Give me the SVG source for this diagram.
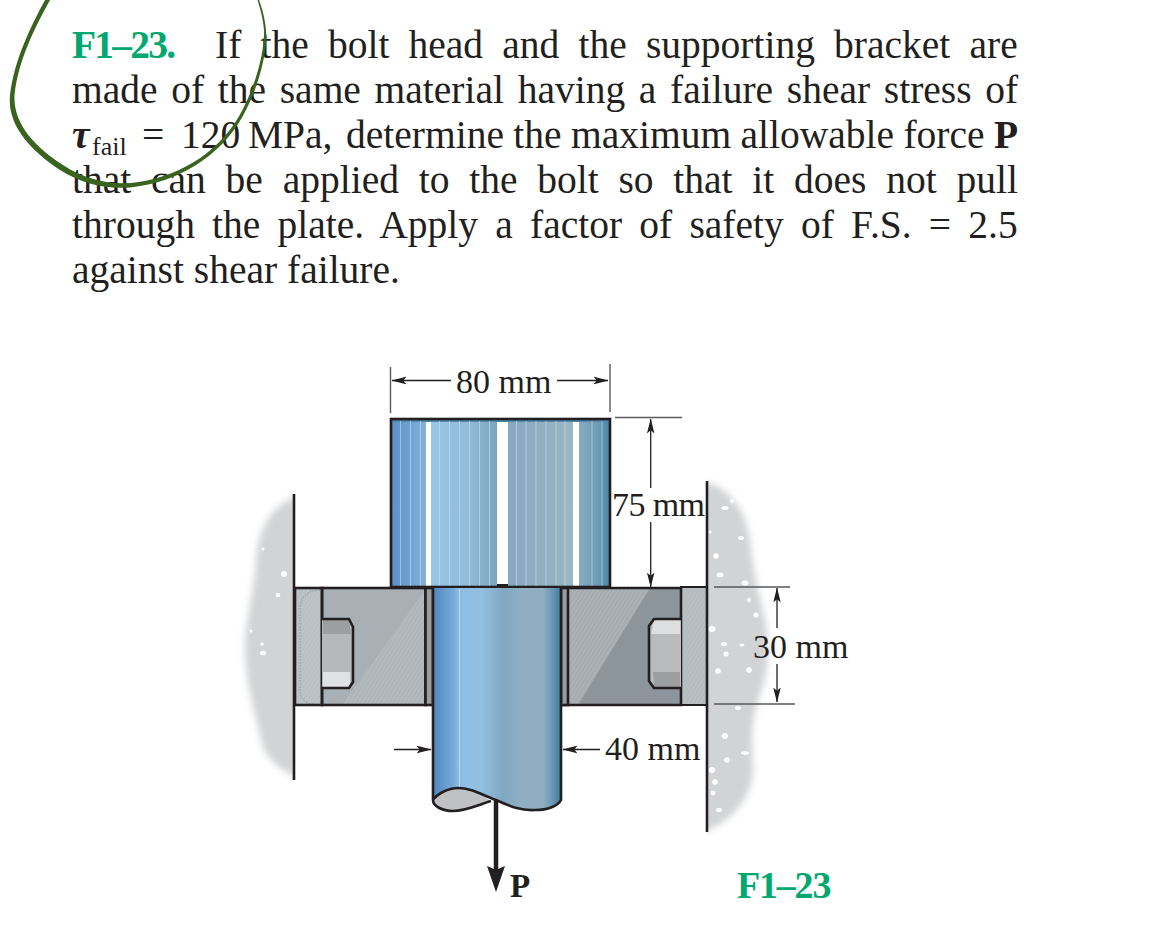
<svg xmlns="http://www.w3.org/2000/svg" width="1156" height="948" viewBox="0 0 1156 948">
<style>
text{font-family:"Liberation Serif","Times New Roman",serif;fill:#231f20}
.body{font-size:39.5px}
.dim{font-size:34px}
.green{fill:#00a870;font-weight:bold}
.ink{stroke:#231f20;stroke-width:2.6;fill:none}
.dl{stroke:#231f20;stroke-width:1.3;fill:none}
.ext{stroke:#5a5a5c;stroke-width:1.4;fill:none}
.sp{fill:#fff}
.hl{stroke:#c9dff0;stroke-width:1;opacity:.6}
</style>
<defs>
<marker id="ah" viewBox="0 0 14 8" refX="13.5" refY="4" markerWidth="15" markerHeight="9" markerUnits="userSpaceOnUse" orient="auto-start-reverse"><path d="M0 0.5L14 4L0 7.5L3 4Z" fill="#231f20"/></marker>
<linearGradient id="h1"><stop offset="0" stop-color="#5a8fc6"/><stop offset="1" stop-color="#84b2dc"/></linearGradient>
<linearGradient id="h2"><stop offset="0" stop-color="#98c7ea"/><stop offset=".55" stop-color="#92bcd9"/><stop offset="1" stop-color="#7ca5bf"/></linearGradient>
<linearGradient id="h3"><stop offset="0" stop-color="#86a8c0"/><stop offset="1" stop-color="#9cb7c4"/></linearGradient>
<linearGradient id="h4"><stop offset="0" stop-color="#8aabbf"/><stop offset=".6" stop-color="#6f9cb6"/><stop offset="1" stop-color="#4a83a5"/></linearGradient>
<linearGradient id="sh"><stop offset="0" stop-color="#4f86c1"/><stop offset=".16" stop-color="#79abd8"/><stop offset=".2" stop-color="#8dbde3"/><stop offset=".38" stop-color="#93bfe0"/><stop offset=".55" stop-color="#7fa8c4"/><stop offset=".68" stop-color="#90afc4"/><stop offset=".86" stop-color="#8fadc0"/><stop offset=".93" stop-color="#6b99b4"/><stop offset="1" stop-color="#3d7a9c"/></linearGradient>
<pattern id="hatch" width="3.500" height="3.500" patternUnits="userSpaceOnUse" patternTransform="rotate(32)"><line x1="0" y1="0" x2="0" y2="3.500" stroke="#dfe3e5" stroke-width=".6" opacity=".45"/></pattern>
<filter id="soft" x="-20%" y="-10%" width="140%" height="120%"><feGaussianBlur stdDeviation="3.500"/></filter>
<clipPath id="cL"><rect x="200" y="480" width="94" height="310"/></clipPath>
<clipPath id="cR"><rect x="707" y="470" width="90" height="370"/></clipPath>
</defs>
<rect width="1156" height="948" fill="#fff"/>

<g id="problem-text">
<text class="body green" x="72" y="58" letter-spacing="-1.800">F1–23.</text>
<text class="body" x="215" y="58" word-spacing="9.300">If the bolt head and the supporting bracket are</text>
<text class="body" x="72" y="103" word-spacing="3.800">made of the same material having a failure shear stress of</text>
<text class="body" x="72" y="148" font-style="italic" font-weight="bold">τ</text>
<text x="92" y="154.500" font-size="26">fail</text>
<text class="body" x="142" y="148">=</text>
<text class="body" x="181" y="148">120</text>
<text class="body" x="248" y="148">MPa,</text>
<text class="body" x="346" y="148" word-spacing="-0.500">determine the maximum allowable force</text>
<text class="body" x="994" y="148" font-weight="bold">P</text>
<text class="body" x="72" y="193" word-spacing="9.900">that can be applied to the bolt so that it does not pull</text>
<text class="body" x="72" y="238" word-spacing="7.350">through the plate. Apply a factor of safety of F.S. = 2.5</text>
<text class="body" x="72" y="283">against shear failure.</text>
</g>

<g id="hand-circle">
<path fill="#38641f" d="M45 0C31 26 14 60 10 95C7 125 30 150 60 170C85 186 115 191 140 186C185 179 226 151 246 110C259 85 268 50 266 30C265 18 262 8 259 0L257.500 0C260 8 263 18 264 30C265 50 256 84 243 109C223 149 184 175 139 182C115 186 87 181 63 165C35 147 13 124 14.500 95C18 61 35 27 50 0Z"/>
</g>

<g id="wall-left">
<g clip-path="url(#cL)"><path filter="url(#soft)" fill="#d1d3d4" d="M300 495C270 505 258 530 256 560C255 590 244 625 245 650C246 690 258 720 262 745C268 760 282 772 300 778Z"/></g>
<circle class="sp" cx="284" cy="574" r="3"/><circle class="sp" cx="278" cy="595" r="2.300"/><circle class="sp" cx="263" cy="549" r="1.500"/><circle class="sp" cx="251" cy="631" r="1.500"/><ellipse class="sp" cx="262" cy="644" rx="2" ry="1.500"/><ellipse class="sp" cx="263" cy="653" rx="3" ry="2.300"/>
</g>
<g id="wall-right">
<g clip-path="url(#cR)"><path filter="url(#soft)" fill="#d1d3d4" d="M702 481C725 486 745 505 750 540C753 570 758 590 763 610C770 640 770 670 760 695C750 720 752 745 753 770C752 800 730 822 702 833Z"/></g>
<ellipse class="sp" cx="725" cy="508" rx="3.500" ry="2"/><circle class="sp" cx="732" cy="501" r="2"/><ellipse class="sp" cx="741" cy="538" rx="3" ry="2"/><circle class="sp" cx="710" cy="532" r="1.500"/><circle class="sp" cx="716" cy="556" r="2.800"/><ellipse class="sp" cx="720" cy="575" rx="3.500" ry="2.500"/><ellipse class="sp" cx="745" cy="583" rx="3.500" ry="2.500"/><circle class="sp" cx="749" cy="600" r="2"/><circle class="sp" cx="756" cy="615" r="2.500"/><ellipse class="sp" cx="712" cy="629" rx="3.500" ry="3"/><ellipse class="sp" cx="724" cy="644" rx="3" ry="2"/><ellipse class="sp" cx="742" cy="645" rx="2.500" ry="1.500"/><circle class="sp" cx="726" cy="654" r="2.500"/><circle class="sp" cx="718" cy="671" r="2.800"/><circle class="sp" cx="749" cy="670" r="2.800"/><ellipse class="sp" cx="738" cy="708" rx="3" ry="2"/><circle class="sp" cx="725" cy="736" r="3"/><ellipse class="sp" cx="745" cy="753" rx="4" ry="1.800"/><circle class="sp" cx="727" cy="760" r="2.800"/><circle class="sp" cx="712" cy="770" r="3"/><circle class="sp" cx="715" cy="782" r="2.800"/><circle class="sp" cx="713" cy="793" r="2.300"/><ellipse class="sp" cx="719" cy="810" rx="3" ry="2"/>
</g>

<g id="plate-left">
<rect x="322" y="588" width="104" height="117" fill="#a8b0b6"/>
<polygon points="342,705 425,590 425,705" fill="#aeb6ba"/>
<polygon points="342,705 425,590 425,705" fill="url(#hatch)"/>
<rect x="295" y="588" width="27" height="118" fill="#b9c0c4"/>
<rect x="295" y="588" width="27" height="118" fill="url(#hatch)"/>
<path d="M320 590C307 590 300 598 300 610V690C300 700 305 704 320 705" fill="none" stroke="#858b8f" stroke-width=".8" stroke-dasharray="1.500 1.500"/>
<rect x="322" y="588" width="103.500" height="117" class="ink"/>
<rect x="295" y="588" width="27" height="117" class="ink"/>
<rect x="425.500" y="588" width="7.500" height="117" class="ink" style="fill:#9a9c9e"/>
</g>
<g id="plate-right">
<rect x="568" y="588" width="113" height="117" fill="#8c959c"/>
<polygon points="568,588 650,588 578,705 568,705" fill="#a6adb2"/>
<polygon points="568,588 650,588 578,705 568,705" fill="url(#hatch)"/>
<rect x="681" y="587" width="26" height="118" fill="#b5bcc0"/>
<rect x="681" y="587" width="26" height="118" fill="url(#hatch)"/>
<path d="M561 588H681V705H561" class="ink"/>
<path d="M681 587H707V705H681Z" class="ink" style="stroke-width:2"/>
<rect x="561" y="588" width="7" height="117" class="ink" style="fill:#9a9c9e"/>
</g>

<g id="nut-left">
<path d="M322 619H349L353 627V682L349 688H322Z" fill="#b6b8ba"/>
<path d="M323 620H349L351 634H323Z" fill="#9c9ea0"/>
<path d="M323 672H350L350 687H323Z" fill="#dfe1e3"/>
<path d="M322 619H349L353 627V682L349 688H322" class="ink"/>
</g>
<g id="nut-right">
<path d="M681 619H654L649 626V681L654 688H681Z" fill="#b9babc"/>
<path d="M680 620H654L651 634H680Z" fill="#dcdee0"/>
<path d="M680 672H653L654 687H680Z" fill="#9c9ea0"/>
<path d="M681 619H654L649 626V681L654 688H681" class="ink"/>
</g>

<g id="bolt-head">
<rect x="391" y="419" width="35" height="168" fill="url(#h1)"/>
<rect x="431" y="419" width="66" height="168" fill="url(#h2)"/>
<rect x="508" y="419" width="65" height="168" fill="url(#h3)"/>
<rect x="579" y="419" width="31" height="168" fill="url(#h4)"/>
<rect x="497" y="584" width="11" height="3" fill="#231f20"/>
<rect x="391" y="420" width="219" height="2" fill="#4f86ab"/>
<path class="hl" d="M400.500 421V587M410.500 421V587M420.500 421V587M439.500 421V587M449.500 421V587M459.500 421V587M469.500 421V587M479.500 421V587M489.500 421V587M516.500 421V587M526 421V587M536 421V587M546 421V587M556 421V587M565 421V587M592 421V587M602 421V587"/>
<rect x="391" y="419" width="219" height="168" class="ink"/>
</g>

<g id="bolt-shaft">
<path d="M433 588V800C437 794 448 788 458 788C472 788 482 795 496 800C510 806 520 811 535 810C548 810 558 806 561 800V588Z" fill="url(#sh)"/>
<path d="M433 800C437 794 448 788 458 788C472 788 482 795 491 801C478 805 465 811 453 811C442 811 433 806 433 800Z" fill="#bfc1c3"/>
<path d="M459.500 589V788" stroke="#c9e0f3" stroke-width=".8" fill="none"/>
<path d="M433 588V800C433 806 442 811 453 811C465 811 478 805 491 801M433 800C437 794 448 788 458 788C472 788 482 795 496 800C510 806 520 811 535 810C548 810 558 806 561 800V588" class="ink"/>
</g>

<g id="connectors">
<path class="ext" d="M390.500 367V413M610 364V412M615 417.500H682M714 587H790M714 704H795"/>
<path class="ink" d="M294 494V780M707 481V832"/>
<path class="dl" marker-end="url(#ah)" d="M451 380.500H392"/>
<path class="dl" marker-end="url(#ah)" d="M557 380.500H608"/>
<path class="dl" marker-end="url(#ah)" d="M650.700 488V419"/>
<path class="dl" marker-end="url(#ah)" d="M650.700 522V587"/>
<path class="dl" marker-end="url(#ah)" d="M777 628V588"/>
<path class="dl" marker-end="url(#ah)" d="M777 664V702"/>
<path class="dl" marker-end="url(#ah)" d="M394 749.500H431"/>
<path class="dl" marker-end="url(#ah)" d="M600 749.500H563"/>
<path d="M496 800V872" stroke="#231f20" stroke-width="4.500" fill="none"/>
<path d="M487 866L496 870L505 866L496 892Z" fill="#231f20"/>
</g>

<g id="labels">
<text class="dim" x="456" y="393">80 mm</text>
<text class="dim" x="612" y="516" letter-spacing="-.6">75 mm</text>
<text class="dim" x="753" y="658">30 mm</text>
<text class="dim" x="605" y="760">40 mm</text>
<text x="510" y="897" font-size="33" font-weight="bold">P</text>
<text class="green" x="737" y="898" font-size="38" letter-spacing="-1.200">F1–23</text>
</g>
</svg>
